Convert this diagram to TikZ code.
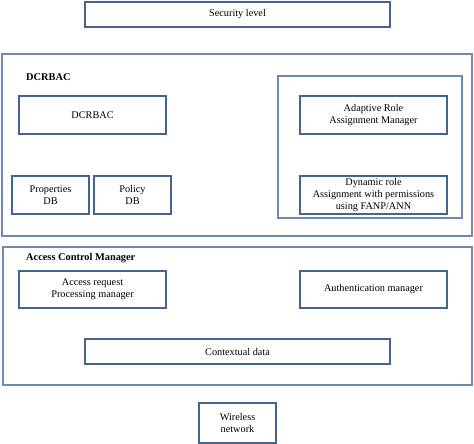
\documentclass[tikz,border=0pt]{standalone}
\usepackage{fontspec}
\setmainfont{Liberation Serif}
\begin{document}
\begin{tikzpicture}[x=1bp,y=-1bp,
  boxline/.style={draw=boxblue, line width=1.6bp},
  contline/.style={draw=contblue, line width=1.2bp},
  bx/.style={boxline, fill=white, inner sep=0pt, align=center, font=\fontsize{10.3}{12}\selectfont},
  cont/.style={contline, inner sep=0pt},
  ttl/.style={font=\fontsize{10.4}{12}\selectfont\bfseries, anchor=west, inner sep=0pt}]
\definecolor{boxblue}{HTML}{44638F}
\definecolor{contblue}{HTML}{6F89B0}
\useasboundingbox (0,0) rectangle (474,444);
% containers
\node[cont, minimum width=470bp, minimum height=182bp] (dcr) at (237,145) {};
\node[cont, minimum width=184bp, minimum height=142bp] (right) at (370,147) {};
\node[cont, minimum width=469bp, minimum height=138bp] (acm) at (237.5,316) {};
\node[ttl] (dcrt) at (26,77) {DCRBAC};
\node[ttl] (acmt) at (26,258) {Access Control Manager};
% boxes
\node[bx, minimum width=305bp, minimum height=25bp] (sec) at (237.5,14.5) {Security level};
\node[bx, minimum width=147bp, minimum height=38bp] (dcrb) at (92.5,115) {DCRBAC};
\node[bx, minimum width=77bp, minimum height=38bp] (prop) at (50.5,195) {Properties\\DB};
\node[bx, minimum width=77bp, minimum height=38bp] (pol) at (132.5,195) {Policy\\DB};
\node[bx, minimum width=147bp, minimum height=38bp] (arm) at (373.5,115) {Adaptive Role\\Assignment Manager};
\node[bx, minimum width=147bp, minimum height=38bp] (dyn) at (373.5,195) {Dynamic role\\Assignment with permissions\\using FANP/ANN};
\node[bx, minimum width=147bp, minimum height=37bp] (arp) at (92.5,289.5) {Access request\\Processing manager};
\node[bx, minimum width=147bp, minimum height=37bp] (auth) at (373.5,289.5) {Authentication manager};
\node[bx, minimum width=305bp, minimum height=25bp] (ctx) at (237.5,351.5) {Contextual data};
\node[bx, minimum width=77bp, minimum height=40bp] (wn) at (237.5,423) {Wireless\\network};
\end{tikzpicture}
\end{document}
